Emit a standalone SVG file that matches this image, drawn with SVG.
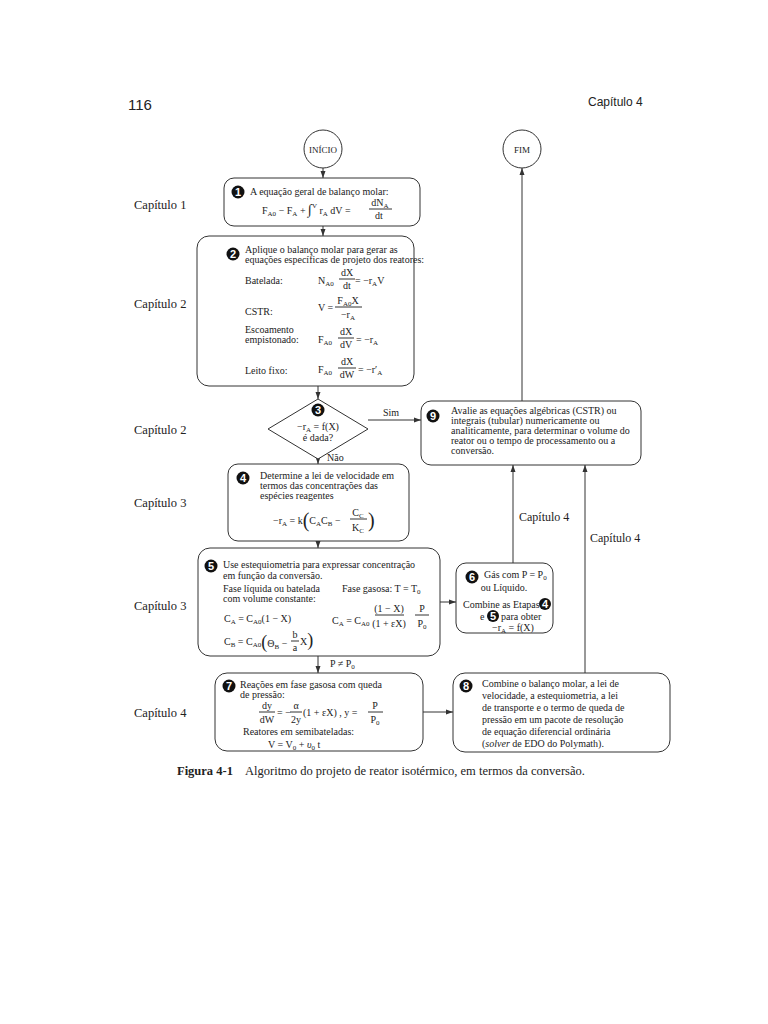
<svg xmlns="http://www.w3.org/2000/svg" width="768" height="1024" viewBox="0 0 768 1024">
<defs>
<marker id="ah" markerWidth="8" markerHeight="8" refX="7" refY="4" orient="auto" markerUnits="userSpaceOnUse"><path d="M0,1.5 L7,4 L0,6.5 Z" fill="#333"/></marker>
<style>
text{font-family:"Liberation Serif",serif;fill:#222;font-size:10px}
.box{fill:#fff;stroke:#333;stroke-width:1}
.ln{stroke:#333;stroke-width:1;fill:none}
.ch{font-size:12.5px}
.n{fill:#111}
.nt{fill:#fff;font-family:"Liberation Sans",sans-serif;font-weight:bold;font-size:11px;text-anchor:middle}
.m{text-anchor:middle}
.s{font-size:7px}
</style>
</defs>
<rect width="768" height="1024" fill="#fff"/>
<text x="128" y="110" style="font-family:'Liberation Sans',sans-serif;font-size:15px">116</text>
<text x="588" y="106" style="font-family:'Liberation Sans',sans-serif;font-size:12px">Capítulo 4</text>
<g class="ch-labels">
<text class="ch" x="134" y="209">Capítulo 1</text>
<text class="ch" x="134" y="308">Capítulo 2</text>
<text class="ch" x="134" y="434">Capítulo 2</text>
<text class="ch" x="134" y="507">Capítulo 3</text>
<text class="ch" x="134" y="610">Capítulo 3</text>
<text class="ch" x="134" y="717">Capítulo 4</text>
</g>
<g id="connectors">
<line class="ln" x1="323" y1="168" x2="323" y2="178" marker-end="url(#ah)"/>
<line class="ln" x1="323" y1="226" x2="323" y2="236" marker-end="url(#ah)"/>
<line class="ln" x1="318" y1="386" x2="318" y2="399" marker-end="url(#ah)"/>
<line class="ln" x1="318" y1="458" x2="318" y2="464" marker-end="url(#ah)"/>
<text x="327" y="461">Não</text>
<line class="ln" x1="368" y1="420" x2="421" y2="420" marker-end="url(#ah)"/>
<text x="383" y="416">Sim</text>
<line class="ln" x1="318" y1="541" x2="318" y2="548" marker-end="url(#ah)"/>
<line class="ln" x1="440" y1="602" x2="456" y2="602" marker-end="url(#ah)"/>
<line class="ln" x1="513" y1="563" x2="513" y2="465" marker-end="url(#ah)"/>
<text x="519" y="521" style="font-size:12px">Capítulo 4</text>
<line class="ln" x1="585" y1="673" x2="585" y2="465" marker-end="url(#ah)"/>
<text x="590" y="542" style="font-size:12px">Capítulo 4</text>
<line class="ln" x1="318" y1="656" x2="318" y2="673" marker-end="url(#ah)"/>
<text x="330" y="667">P ≠ P<tspan class="s" dy="2">0</tspan></text>
<line class="ln" x1="423" y1="712" x2="453" y2="712" marker-end="url(#ah)"/>
<line class="ln" x1="522" y1="401" x2="522" y2="168" marker-end="url(#ah)"/>
</g>
<g id="inicio"><circle class="box" cx="323" cy="149" r="19"/><text class="m" x="323" y="153" style="font-size:9px">INÍCIO</text></g>
<g id="fim"><circle class="box" cx="522" cy="149" r="19"/><text class="m" x="522" y="153" style="font-size:9px">FIM</text></g>
<g id="n1">
<rect class="box" x="224" y="178" width="196" height="48" rx="10"/>
<circle class="n" cx="238" cy="192" r="6.5"/><text class="nt" x="238" y="196">1</text>
<text x="250" y="195">A equação geral de balanço molar:</text>
<text x="262" y="214">F<tspan class="s" dy="2">A0</tspan><tspan dy="-2"> − F</tspan><tspan class="s" dy="2">A</tspan><tspan dy="-2"> + </tspan><tspan style="font-size:14px">∫</tspan><tspan class="s" dy="-6">V</tspan><tspan dy="6"> r</tspan><tspan class="s" dy="2">A</tspan><tspan dy="-2">  dV =</tspan></text>
<text class="m" x="380" y="206">dN<tspan class="s" dy="2">A</tspan></text>
<line class="ln" x1="369" y1="209" x2="392" y2="209"/>
<text class="m" x="379" y="219">dt</text>
</g>
<g id="n2">
<rect class="box" x="197" y="236" width="217" height="150" rx="12"/>
<circle class="n" cx="233" cy="254" r="6.5"/><text class="nt" x="233" y="258">2</text>
<text x="245" y="253">Aplique o balanço molar para gerar as</text>
<text x="245" y="263">equações específicas de projeto dos reatores:</text>
<text x="245" y="284">Batelada:</text>
<text x="318" y="284">N<tspan class="s" dy="2">A0</tspan></text>
<text class="m" x="347" y="276">dX</text><line class="ln" x1="339" y1="279" x2="355" y2="279"/><text class="m" x="347" y="289">dt</text>
<text x="355" y="284">= −r<tspan class="s" dy="2">A</tspan><tspan dy="-2">V</tspan></text>
<text x="245" y="315">CSTR:</text>
<text x="318" y="311">V =</text>
<text class="m" x="348" y="304">F<tspan class="s" dy="2">A0</tspan><tspan dy="-2">X</tspan></text><line class="ln" x1="335" y1="307" x2="362" y2="307"/><text class="m" x="348" y="318">−r<tspan class="s" dy="2">A</tspan></text>
<text x="245" y="333">Escoamento</text>
<text x="245" y="343">empistonado:</text>
<text x="318" y="343">F<tspan class="s" dy="2">A0</tspan></text>
<text class="m" x="346" y="335">dX</text><line class="ln" x1="338" y1="338" x2="354" y2="338"/><text class="m" x="346" y="348">dV</text>
<text x="356" y="343">= −r<tspan class="s" dy="2">A</tspan></text>
<text x="245" y="374">Leito fixo:</text>
<text x="318" y="373">F<tspan class="s" dy="2">A0</tspan></text>
<text class="m" x="347" y="365">dX</text><line class="ln" x1="338" y1="368" x2="356" y2="368"/><text class="m" x="347" y="378">dW</text>
<text x="358" y="373">= −r′<tspan class="s" dy="2">A</tspan></text>
</g>
<g id="n3">
<polygon class="box" points="318,399 368,429 318,459 268,429"/>
<circle class="n" cx="318" cy="410" r="6.5"/><text class="nt" x="318" y="414">3</text>
<text class="m" x="318" y="430">−r<tspan class="s" dy="2">A</tspan><tspan dy="-2"> = f(X)</tspan></text>
<text class="m" x="318" y="441">é dada?</text>
</g>
<g id="n9">
<rect class="box" x="421" y="401" width="220" height="64" rx="10"/>
<circle class="n" cx="433" cy="416" r="6.5"/><text class="nt" x="433" y="420">9</text>
<text x="451" y="414">Avalie as equações algébricas (CSTR) ou</text>
<text x="451" y="424">integrais (tubular) numericamente ou</text>
<text x="451" y="434">analiticamente, para determinar o volume do</text>
<text x="451" y="444">reator ou o tempo de processamento ou a</text>
<text x="451" y="454">conversão.</text>
</g>
<g id="n4">
<rect class="box" x="228" y="464" width="181" height="77" rx="10"/>
<circle class="n" cx="243" cy="478" r="6.5"/><text class="nt" x="243" y="482">4</text>
<text x="260" y="479">Determine a lei de velocidade em</text>
<text x="260" y="489">termos das concentrações das</text>
<text x="260" y="499">espécies reagentes</text>
<text x="273" y="524">−r<tspan class="s" dy="2">A</tspan><tspan dy="-2"> = k</tspan><tspan style="font-size:20px" dy="3">(</tspan><tspan dy="-3">C</tspan><tspan class="s" dy="2">A</tspan><tspan dy="-2">C</tspan><tspan class="s" dy="2">B</tspan><tspan dy="-2"> −</tspan></text>
<text class="m" x="358" y="516">C<tspan class="s" dy="2">C</tspan></text><line class="ln" x1="350" y1="519" x2="367" y2="519"/><text class="m" x="358" y="531">K<tspan class="s" dy="2">C</tspan></text>
<text x="368" y="527" style="font-size:20px">)</text>
</g>
<g id="n5">
<rect class="box" x="198" y="548" width="242" height="108" rx="12"/>
<circle class="n" cx="211" cy="566" r="6.5"/><text class="nt" x="211" y="570">5</text>
<text x="223" y="568">Use estequiometria para expressar concentração</text>
<text x="223" y="579">em função da conversão.</text>
<text x="223" y="592">Fase líquida ou batelada</text>
<text x="223" y="602">com volume constante:</text>
<text x="342" y="592">Fase gasosa:  T = T<tspan class="s" dy="2">0</tspan></text>
<text x="224" y="622">C<tspan class="s" dy="2">A</tspan><tspan dy="-2"> = C</tspan><tspan class="s" dy="2">A0</tspan><tspan dy="-2">(1 − X)</tspan></text>
<text x="224" y="645">C<tspan class="s" dy="2">B</tspan><tspan dy="-2"> = C</tspan><tspan class="s" dy="2">A0</tspan><tspan style="font-size:18px" dy="1">(</tspan><tspan dy="-1">Θ</tspan><tspan class="s" dy="2">B</tspan><tspan dy="-2"> −</tspan></text>
<text class="m" x="295" y="638">b</text><line class="ln" x1="291" y1="641" x2="299" y2="641"/><text class="m" x="295" y="651">a</text>
<text x="300" y="645">X<tspan style="font-size:18px" dy="1">)</tspan></text>
<text x="332" y="624">C<tspan class="s" dy="2">A</tspan><tspan dy="-2"> = C</tspan><tspan class="s" dy="2">A0</tspan></text>
<text class="m" x="389" y="612">(1 − X)</text><line class="ln" x1="375" y1="615" x2="404" y2="615"/><text class="m" x="389" y="627">(1 + εX)</text>
<text class="m" x="422" y="612">P</text><line class="ln" x1="415" y1="615" x2="429" y2="615"/><text class="m" x="422" y="627">P<tspan class="s" dy="2">0</tspan></text>
</g>
<g id="n6">
<rect class="box" x="456" y="563" width="97" height="70" rx="10"/>
<circle class="n" cx="472" cy="577" r="6.5"/><text class="nt" x="472" y="581">6</text>
<text x="484" y="578">Gás com P = P<tspan class="s" dy="2">0</tspan></text>
<text class="m" x="504" y="591">ou Líquido.</text>
<text x="463" y="608">Combine as Etapas</text>
<circle class="n" cx="545" cy="604" r="6"/><text class="nt" x="545" y="608">4</text>
<text x="480" y="620">e</text>
<circle class="n" cx="493" cy="616" r="6"/><text class="nt" x="493" y="620">5</text>
<text x="501" y="620">para obter</text>
<text x="492" y="631">−r<tspan class="s" dy="2">A</tspan><tspan dy="-2"> = f(X)</tspan></text>
</g>
<g id="n7">
<rect class="box" x="215" y="673" width="208" height="78" rx="12"/>
<circle class="n" cx="229" cy="686" r="6.5"/><text class="nt" x="229" y="690">7</text>
<text x="240" y="688">Reações em fase gasosa com queda</text>
<text x="240" y="698">de pressão:</text>
<text class="m" x="267" y="709">dy</text><line class="ln" x1="259" y1="712" x2="275" y2="712"/><text class="m" x="267" y="723">dW</text>
<text x="277" y="716">= −</text>
<text class="m" x="296" y="709">α</text><line class="ln" x1="290" y1="712" x2="302" y2="712"/><text class="m" x="296" y="723">2y</text>
<text x="303" y="716">(1 + εX) ,   y =</text>
<text class="m" x="375" y="709">P</text><line class="ln" x1="368" y1="712" x2="383" y2="712"/><text class="m" x="375" y="723">P<tspan class="s" dy="2">0</tspan></text>
<text x="243" y="735">Reatores em semibateladas:</text>
<text x="268" y="748">V = V<tspan class="s" dy="2">0</tspan><tspan dy="-2"> + </tspan><tspan font-style="italic">υ</tspan><tspan class="s" dy="2">0</tspan><tspan dy="-2"> t</tspan></text>
</g>
<g id="n8">
<rect class="box" x="453" y="673" width="217" height="79" rx="12"/>
<circle class="n" cx="466" cy="686" r="6.5"/><text class="nt" x="466" y="690">8</text>
<text x="482" y="687">Combine o balanço molar, a lei de</text>
<text x="482" y="699">velocidade, a estequiometria, a lei</text>
<text x="482" y="711">de transporte e o termo de queda de</text>
<text x="482" y="723">pressão em um pacote de resolução</text>
<text x="482" y="735">de equação diferencial ordinária</text>
<text x="482" y="747">(<tspan font-style="italic">solver</tspan> de EDO do Polymath).</text>
</g>
<text x="177" y="775" style="font-size:12.5px;font-weight:bold">Figura 4-1</text>
<text x="245" y="775" style="font-size:12.5px">Algoritmo do projeto de reator isotérmico, em termos da conversão.</text>
</svg>
